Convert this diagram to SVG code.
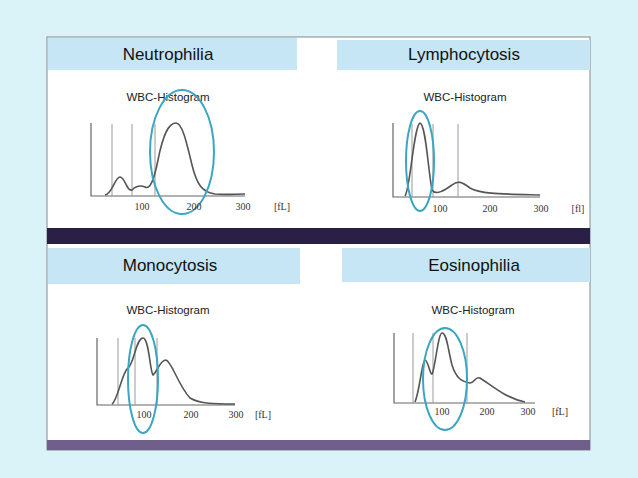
<svg xmlns="http://www.w3.org/2000/svg" width="638" height="478" viewBox="0 0 638 478">
<style>
.bar{fill:#c6e6f6}
.t{font-family:"Liberation Sans",Arial,sans-serif;font-size:17px;fill:#111;text-anchor:middle}
.h{font-family:"Liberation Sans",Arial,sans-serif;font-size:11.5px;fill:#222;text-anchor:middle}
.n{font-family:"Liberation Serif",serif;font-size:10px;fill:#333;text-anchor:middle}
.ax{fill:none;stroke:#666;stroke-width:1.2}
.g{fill:none;stroke:#999;stroke-width:1}
.c{fill:none;stroke:#555;stroke-width:1.6}
.e{fill:none;stroke:#3aa6c4;stroke-width:2}
</style>
<rect width="638" height="478" fill="#d9f3f8"/>
<rect x="47" y="37" width="543" height="413" fill="#fff" stroke="#888"/>
<rect x="47" y="228" width="543" height="16" fill="#2a1f45"/>
<rect x="47" y="440" width="543" height="10" fill="#6f5f8a"/>
<g id="neutrophilia">
<rect class="bar" x="48" y="38" width="249" height="32"/>
<text class="t" x="168" y="60">Neutrophilia</text>
<text class="h" x="168" y="101">WBC-Histogram</text>
<path class="ax" d="M91,123V196H245"/>
<path class="g" d="M112,124V196M132,124V196M155,124V196"/>
<path class="c" d="M105,195C112,194 115,177 120,177C125,177 127,192 132,190C136,186 140,185 145,187C150,190 154,180 158,160C164,130 170,123 176,123C182,123 186,140 192,165C197,185 202,192 215,194C225,195 235,194 245,194"/>
<ellipse class="e" cx="182" cy="152" rx="32" ry="62"/>
<text class="n" x="142" y="210">100</text><text class="n" x="194" y="210">200</text><text class="n" x="243" y="210">300</text><text class="n" x="282" y="210">[fL]</text>
</g>
<g id="lymphocytosis">
<rect class="bar" x="337" y="40" width="253" height="30"/>
<text class="t" x="464" y="60">Lymphocytosis</text>
<text class="h" x="465" y="101">WBC-Histogram</text>
<path class="ax" d="M393,123V197H540"/>
<path class="g" d="M412,124V197M433,124V197M458,124V197"/>
<path class="c" d="M405,196C410,190 414,125 420,123C426,125 428,170 432,190C436,196 445,190 452,185C458,180 462,182 470,188C480,194 500,194 540,195"/>
<ellipse class="e" cx="420" cy="161" rx="14" ry="50"/>
<text class="n" x="440" y="212">100</text><text class="n" x="490" y="212">200</text><text class="n" x="541" y="212">300</text><text class="n" x="578" y="212">[fl]</text>
</g>
<g id="monocytosis">
<rect class="bar" x="48" y="248" width="252" height="36"/>
<text class="t" x="170" y="271">Monocytosis</text>
<text class="h" x="168" y="314">WBC-Histogram</text>
<path class="ax" d="M97,338V405H235"/>
<path class="g" d="M118,338V405M135,338V405M157,338V405"/>
<path class="c" d="M112,404C118,400 122,372 128,368C134,364 136,338 143,338C149,338 150,372 153,375C157,372 160,360 166,360C172,362 178,385 190,398C200,404 215,404 235,404"/>
<ellipse class="e" cx="143" cy="379" rx="15" ry="54"/>
<text class="n" x="144" y="418">100</text><text class="n" x="191" y="418">200</text><text class="n" x="236" y="418">300</text><text class="n" x="263" y="418">[fL]</text>
</g>
<g id="eosinophilia">
<rect class="bar" x="342" y="248" width="248" height="34"/>
<text class="t" x="474" y="271">Eosinophilia</text>
<text class="h" x="473" y="314">WBC-Histogram</text>
<path class="ax" d="M394,333V403H535"/>
<path class="g" d="M413,333V403M433,333V403M467,333V403"/>
<path class="c" d="M415,402C420,390 422,360 425,360C428,360 430,375 432,374C435,370 438,333 442,333C447,333 448,350 452,365C456,378 462,382 470,383C475,383 475,376 480,378C490,384 505,398 525,402"/>
<ellipse class="e" cx="445" cy="379" rx="22" ry="51"/>
<text class="n" x="442" y="415">100</text><text class="n" x="487" y="415">200</text><text class="n" x="528" y="415">300</text><text class="n" x="560" y="415">[fL]</text>
</g>
<g id="connectors"/>
</svg>
